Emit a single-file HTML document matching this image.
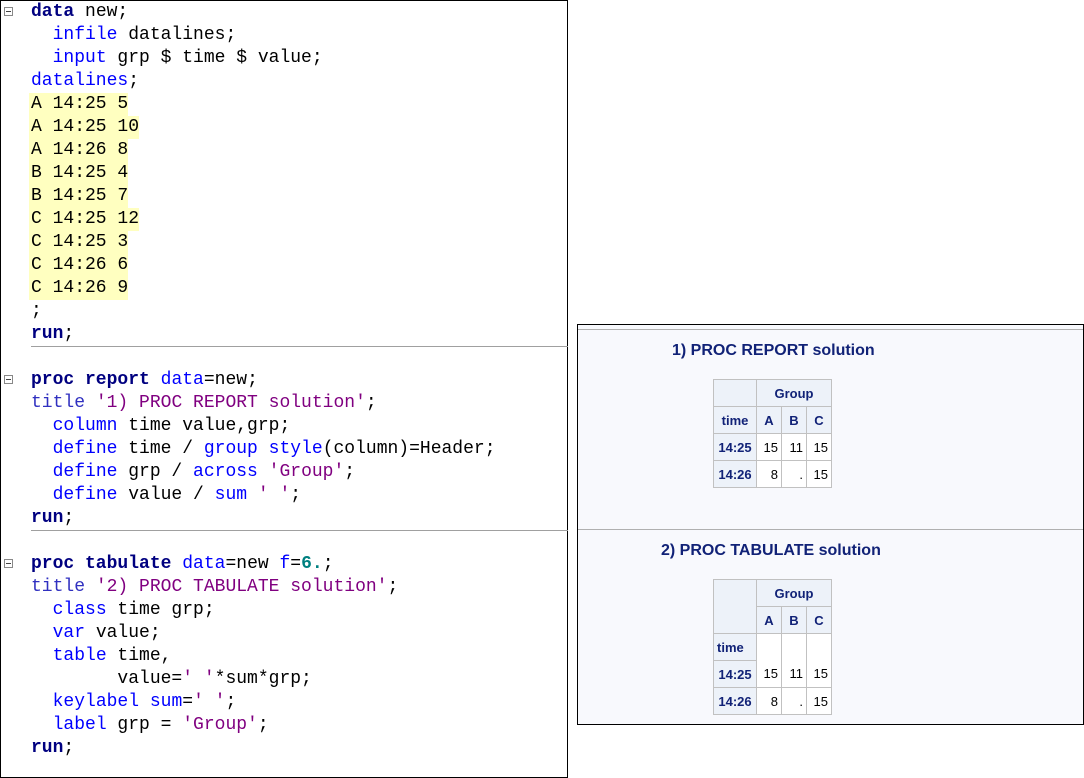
<!DOCTYPE html>
<html><head><meta charset="utf-8"><style>
body{margin:0;width:1084px;height:778px;background:#fff;position:relative;overflow:hidden;font-family:"Liberation Mono",monospace;}
#code{position:absolute;left:0;top:0;width:566px;height:776px;border:1px solid #000;}
.l{position:absolute;left:30px;height:23px;line-height:23px;font-size:18px;color:#000;white-space:pre;}
.k{color:#0000ff}.b{color:#000080;font-weight:bold}.s{color:#800080}.n{color:#008080;font-weight:bold}.t{color:#3030c0}
.hl{background:#ffffc0;display:inline-block;margin-left:-2px;padding-left:2px;height:23px}
.f{position:absolute;left:3px;width:7px;height:7px;border:1px solid #888;font-size:0}
.f:after{content:"";position:absolute;left:1px;top:3px;width:5px;height:1px;background:#444}
.sep{position:absolute;left:30px;width:537px;height:1px;background:#a0a0a0}
#out{position:absolute;left:577px;top:324px;width:505px;height:399px;border:1px solid #000;background:#f8f9fd;}
.ttl{position:absolute;font-family:"Liberation Sans",sans-serif;font-weight:bold;font-size:16px;color:#112277;}
table{position:absolute;border-collapse:collapse;font-family:"Liberation Sans",sans-serif;}
td{border:1px solid #c1c1c1;height:26px;padding:0 3px;font-size:13px;text-align:right;background:#fff;color:#000}
td.h{background:#edf2f9;color:#112277;font-weight:bold;font-size:13px;text-align:center}
td.r{background:#edf2f9;color:#112277;font-weight:bold;font-size:13px;text-align:left}
</style></head><body>
<div id="code">
<div class="f" style="top:6px"></div>
<div class="l" style="top:0"><span class="b">data</span> new;</div>
<div class="l" style="top:23px">  <span class="k">infile</span> datalines;</div>
<div class="l" style="top:46px">  <span class="k">input</span> grp $ time $ value;</div>
<div class="l" style="top:69px"><span class="k">datalines</span>;</div>
<div class="l" style="top:92px"><span class="hl">A 14:25 5</span></div>
<div class="l" style="top:115px"><span class="hl">A 14:25 10</span></div>
<div class="l" style="top:138px"><span class="hl">A 14:26 8</span></div>
<div class="l" style="top:161px"><span class="hl">B 14:25 4</span></div>
<div class="l" style="top:184px"><span class="hl">B 14:25 7</span></div>
<div class="l" style="top:207px"><span class="hl">C 14:25 12</span></div>
<div class="l" style="top:230px"><span class="hl">C 14:25 3</span></div>
<div class="l" style="top:253px"><span class="hl">C 14:26 6</span></div>
<div class="l" style="top:276px"><span class="hl">C 14:26 9</span></div>
<div class="l" style="top:299px">;</div>
<div class="l" style="top:322px"><span class="b">run</span>;</div>
<div class="sep" style="top:345px"></div>
<div class="f" style="top:374px"></div>
<div class="l" style="top:368px"><span class="b">proc report</span> <span class="k">data</span>=new;</div>
<div class="l" style="top:391px"><span class="t">title</span> <span class="s">'1) PROC REPORT solution'</span>;</div>
<div class="l" style="top:414px">  <span class="k">column</span> time value,grp;</div>
<div class="l" style="top:437px">  <span class="k">define</span> time / <span class="k">group</span> <span class="k">style</span>(column)=Header;</div>
<div class="l" style="top:460px">  <span class="k">define</span> grp / <span class="k">across</span> <span class="s">'Group'</span>;</div>
<div class="l" style="top:483px">  <span class="k">define</span> value / <span class="k">sum</span> <span class="s">' '</span>;</div>
<div class="l" style="top:506px"><span class="b">run</span>;</div>
<div class="sep" style="top:529px"></div>
<div class="f" style="top:558px"></div>
<div class="l" style="top:552px"><span class="b">proc tabulate</span> <span class="k">data</span>=new <span class="k">f</span>=<span class="n">6.</span>;</div>
<div class="l" style="top:575px"><span class="t">title</span> <span class="s">'2) PROC TABULATE solution'</span>;</div>
<div class="l" style="top:598px">  <span class="k">class</span> time grp;</div>
<div class="l" style="top:621px">  <span class="k">var</span> value;</div>
<div class="l" style="top:644px">  <span class="k">table</span> time,</div>
<div class="l" style="top:667px">        value=<span class="s">' '</span>*sum*grp;</div>
<div class="l" style="top:690px">  <span class="k">keylabel</span> <span class="k">sum</span>=<span class="s">' '</span>;</div>
<div class="l" style="top:713px">  <span class="k">label</span> grp = <span class="s">'Group'</span>;</div>
<div class="l" style="top:736px"><span class="b">run</span>;</div>
</div>
<div id="out">
<div style="position:absolute;left:0;top:4px;width:505px;height:1px;background:#b0b0b0"></div>
<div class="ttl" style="left:94px;top:17px">1) PROC REPORT solution</div>
<table style="left:135px;top:54px">
<tr><td class="h" style="width:36px"></td><td class="h" colspan="3">Group</td></tr>
<tr><td class="h">time</td><td class="h" style="width:18px">A</td><td class="h" style="width:18px">B</td><td class="h" style="width:18px">C</td></tr>
<tr><td class="h">14:25</td><td>15</td><td>11</td><td>15</td></tr>
<tr><td class="h">14:26</td><td>8</td><td>.</td><td>15</td></tr>
</table>
<div style="position:absolute;left:0;top:204px;width:505px;height:1px;background:#b0b0b0"></div>
<div class="ttl" style="left:83px;top:217px">2) PROC TABULATE solution</div>
<table style="left:135px;top:254px">
<tr><td class="h" rowspan="2" style="width:36px"></td><td class="h" colspan="3">Group</td></tr>
<tr><td class="h" style="width:18px">A</td><td class="h" style="width:18px">B</td><td class="h" style="width:18px">C</td></tr>
<tr><td class="r">time</td><td rowspan="2" style="vertical-align:bottom;padding-bottom:6px">15</td><td rowspan="2" style="vertical-align:bottom;padding-bottom:6px">11</td><td rowspan="2" style="vertical-align:bottom;padding-bottom:6px">15</td></tr>
<tr><td class="h">14:25</td></tr>
<tr><td class="h">14:26</td><td>8</td><td>.</td><td>15</td></tr>
</table>
</div>
</body></html>
